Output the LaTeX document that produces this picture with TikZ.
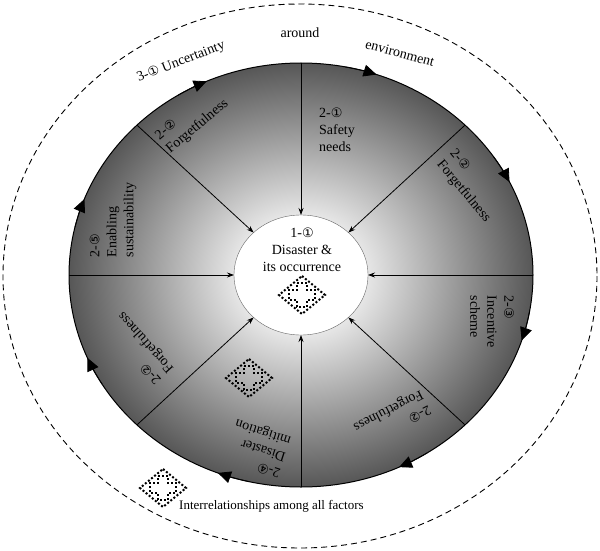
\documentclass[tikz,border=0pt]{standalone}
\usepackage{fontspec}
\setmainfont{Liberation Serif}
\newfontfamily\dvs{DejaVu Sans}
\newcommand{\cn}[1]{{\dvs\fontsize{13}{14}\selectfont #1}}
\usetikzlibrary{arrows.meta,shapes.geometric,calc}
\pgfdeclareradialshading{disc}{\pgfpoint{0bp}{0bp}}{color(0bp)=(white); color(4bp)=(white); color(25bp)=(black!66); color(50bp)=(black!66)}
\tikzset{
  lab/.style={font=\fontsize{14}{17}\selectfont, align=left, inner sep=1pt},
  spoke/.style={line width=0.8pt, -{Stealth[length=7pt,width=5pt]}},
  flow/.style={line width=0.8pt, -{Triangle[length=13pt,width=12pt]}},
  dia/.pic={
    \draw[dotted, line width=2pt] (0,-19) -- (23,0) -- (0,19) -- (-23,0) -- cycle;
    \draw[dotted, line width=2pt] (-5,-12) -- (5,-12) -- (5,-5) -- (13,-5) -- (13,5) -- (5,5) -- (5,12) -- (-5,12) -- (-5,5) -- (-13,5) -- (-13,-5) -- (-5,-5) -- cycle;
  }
}
\begin{document}
\begin{tikzpicture}[x=1pt,y=-1pt]
\useasboundingbox (0,0) rectangle (600,551);
\coordinate (C) at (301,275);
\coordinate (O) at (300,276);
\draw[dash pattern=on 6pt off 4pt, line width=0.9pt] (O) ellipse [x radius=297, y radius=272];
\shade[shading=disc] (C) ellipse [x radius=232, y radius=212];
\draw[line width=1pt] (C) ellipse [x radius=232, y radius=212];
\node[ellipse, draw=black!60, fill=white, minimum width=134pt, minimum height=120pt, inner sep=0pt] (inner) at (C) {};
\foreach \t in {0,45,...,315}{
  \draw[spoke] ($(C)+(\t:232 and 212)$) coordinate (s\t) -- ($(C)+(\t:67 and 60)$) coordinate (e\t);
}
% flow triangles (clockwise)
\foreach \t in {114,71,26,-18,-65,-111,-157,159}{
  \draw[flow] ($(C)+(-\t-8:232 and 212)$) coordinate (f\t) arc[start angle=-\t-8, end angle=-\t, x radius=232, y radius=212];
}
% centre
\node[lab, align=center] (core) at (302,250) {1-\cn{①}\\Disaster \&\\its occurrence};
\pic (d1) at (302,295) {dia};
\pic (d2) at (249,378) {dia};
\pic (d3) at (163,488) {dia};
% sector labels
\node[lab] (l1) at (337,130) {2-\cn{①}\\Safety\\needs};
\node[lab, rotate=40] (l2) at (192,120) {2-\cn{②}\\Forgetfulness};
\node[lab, rotate=-50] (l3) at (470,186) {2-\cn{②}\\Forgetfulness};
\node[lab, rotate=90] (l4) at (113,220) {2-\cn{⑤}\\Enabling\\sustainability};
\node[lab, rotate=-90] (l5) at (492,322) {2-\cn{③}\\Incentive\\scheme};
\node[lab, rotate=132] (l6) at (140,348) {2-\cn{②}\\Forgetfulness};
\node[lab, rotate=162] (l7) at (258,448) {2-\cn{④}\\Disaster\\mitigation};
\node[lab, rotate=207] (l8) at (392,418) {2-\cn{②}\\Forgetfulness};
% outer labels
\node[lab, rotate=21] (u1) at (181,62) {3-\cn{①} Uncertainty};
\node[lab] (u2) at (300,33) {around};
\node[lab, rotate=-15] (u3) at (400,53) {environment};
\node[lab, anchor=west, font=\fontsize{13}{14}\selectfont] (leg) at (178,506) {Interrelationships among all factors};
\end{tikzpicture}
\end{document}
